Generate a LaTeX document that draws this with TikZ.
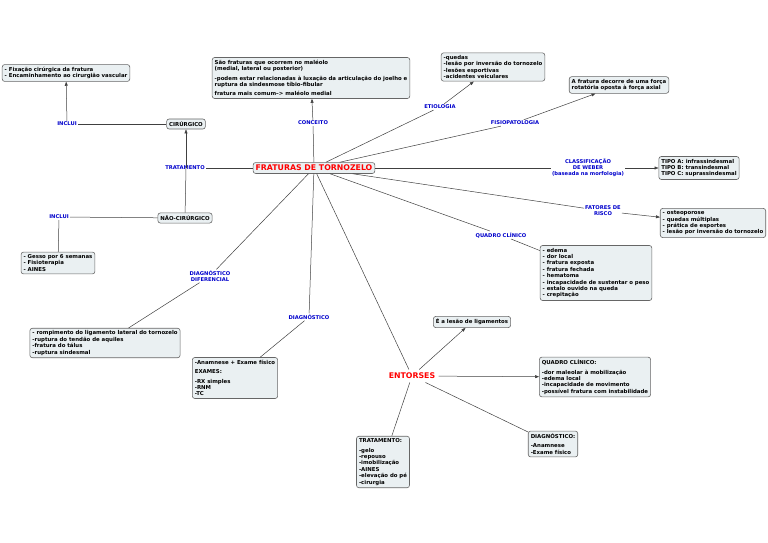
\documentclass[tikz,border=0pt]{standalone}
\usepackage{fontspec}
\setmainfont{DejaVu Sans}
\usetikzlibrary{arrows.meta}
\definecolor{boxfill}{HTML}{EAF0F2}
\begin{document}
\begin{tikzpicture}[x=1pt,y=-1pt,
 box/.style={draw=gray!80!black,fill=boxfill,rounded corners=2.5pt,line width=0.6pt,inner sep=2.5pt,align=left,font=\fontsize{5.4}{6.4}\selectfont\bfseries},
 lab/.style={font=\fontsize{5.2}{6}\selectfont\bfseries,text=blue!80!black,align=center,inner sep=1pt,fill=white},
 hub/.style={font=\fontsize{7.8}{9}\selectfont\bfseries,text=red},
 ln/.style={draw=gray!50!black,line width=0.5pt},
 ar/.style={ln,-{Triangle[length=4pt,width=3pt]}}]
\useasboundingbox (0,0) rectangle (768,543);
\node[box,hub] (main) at (314,168) {FRATURAS DE TORNOZELO};
\node[box] (conc) at (311,78) {São fraturas que ocorrem no maléolo\\(medial, lateral ou posterior)\\[3pt]-podem estar relacionadas à luxação da articulação do joelho e\\ruptura da sindesmose tíbio-fibular\\[3pt]fratura mais comum--> maléolo medial};
\node[lab] (lconc) at (313,123) {CONCEITO};
\node[box] (cir) at (186,124) {CIRÚRGICO};
\node[box] (fix) at (66,73) {- Fixação cirúrgica da fratura\\- Encaminhamento ao cirurgião vascular};
\node[lab] (linc1) at (67,124) {INCLUI};
\node[lab] (ltrat) at (185,168) {TRATAMENTO};
\node[box] (nao) at (185,218) {NÃO-CIRÚRGICO};
\node[lab] (linc2) at (59,217) {INCLUI};
\node[box] (gesso) at (58,263) {- Gesso por 6 semanas\\- Fisioterapia\\- AINES};
\node[lab] (ldd) at (210,276) {DIAGNÓSTICO\\DIFERENCIAL};
\node[box] (romp) at (105,343) {- rompimento do ligamento lateral do tornozelo\\-ruptura do tendão de aquiles\\-fratura do tálus\\-ruptura sindesmal};
\node[lab] (ldiag) at (309,317) {DIAGNÓSTICO};
\node[box] (anam) at (235,378) {-Anamnese + Exame físico\\[3pt]EXAMES:\\[3pt]-RX simples\\-RNM\\-TC};
\node[hub] (ent) at (412,376) {ENTORSES};
\node[box] (lesao) at (472,322) {É a lesão de ligamentos};
\node[box] (eqc) at (595,377) {QUADRO CLÍNICO:\\[3pt]-dor maleolar à mobilização\\-edema local\\-incapacidade de movimento\\-possível fratura com instabilidade};
\node[box] (ediag) at (553,444) {DIAGNÓSTICO:\\[3pt]-Anamnese\\-Exame físico};
\node[box] (etrat) at (383,462) {TRATAMENTO:\\[3pt]-gelo\\-repouso\\-imobilização\\-AINES\\-elevação do pé\\-cirurgia};
\node[box] (etio) at (493,67) {-quedas\\-lesão por inversão do tornozelo\\-lesões esportivas\\-acidentes veiculares};
\node[lab] (letio) at (440,107) {ETIOLOGIA};
\node[box] (fisio) at (619,85) {A fratura decorre de uma força\\rotatória oposta à força axial};
\node[lab] (lfisio) at (515,123) {FISIOPATOLOGIA};
\node[lab] (lclass) at (588,168) {CLASSIFICAÇÃO\\DE WEBER\\(baseada na morfologia)};
\node[box] (tipo) at (699,168) {TIPO A: infrassindesmal\\TIPO B: transindesmal\\TIPO C: suprassindesmal};
\node[lab] (lfat) at (603,211) {FATORES DE\\RISCO};
\node[box] (fat) at (713,223) {- osteoporose\\- quedas múltiplas\\- prática de esportes\\- lesão por inversão do tornozelo};
\node[lab] (lqc) at (501,235) {QUADRO CLÍNICO};
\node[box] (qc) at (596,273) {- edema\\- dor local\\- fratura exposta\\- fratura fechada\\- hematoma\\- incapacidade de sustentar o peso\\- estalo ouvido na queda\\- crepitação};
\path[ln] (main)--(lconc); \path[ar] (lconc)--(conc);
\path[ln] (main)--(ltrat); \path[ar] (ltrat.east -| cir.south) -- (cir);
\path[ln] (ltrat.east -| cir.south) -- (nao);
\path[ln] (cir)--(linc1); \path[ar] (linc1)--(fix);
\path[ln] (nao)--(linc2); \path[ln] (linc2)--(gesso);
\path[ln] (main)--(ldd); \path[ln] (ldd)--(romp);
\path[ln] (main)--(ldiag); \path[ln] (ldiag)--(anam);
\path[ln] (main)--(ent);
\path[ar] (ent)--(lesao); \path[ar] (ent)--(eqc); \path[ln] (ent)--(ediag); \path[ln] (ent)--(etrat);
\path[ln] (main)--(letio); \path[ar] (letio)--(etio);
\path[ln] (main)--(lfisio); \path[ar] (lfisio)--(fisio);
\path[ln] (main)--(lclass); \path[ar] (lclass)--(tipo);
\path[ln] (main)--(lfat); \path[ar] (lfat)--(fat);
\path[ln] (main)--(lqc); \path[ln] (lqc)--(qc);
\end{tikzpicture}
\end{document}
